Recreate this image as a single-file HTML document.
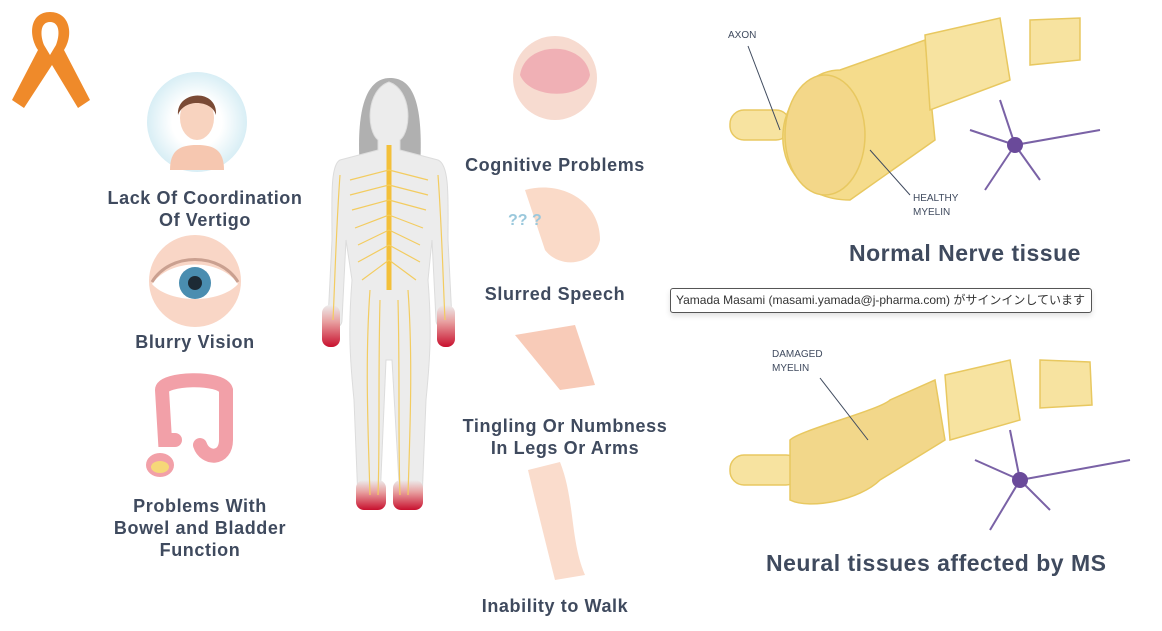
<!DOCTYPE html>
<html><head><meta charset="utf-8"><style>
body{margin:0;background:#fff;width:1162px;height:631px;overflow:hidden;position:relative;font-family:"Liberation Sans",sans-serif}
.t{position:absolute;font-weight:bold;color:#3f4a5e;font-size:18px;letter-spacing:0.6px;text-align:center;line-height:22px;white-space:nowrap}
.s{position:absolute;font-size:10px;color:#3f4a5e;line-height:14px}
.h{position:absolute;font-weight:bold;color:#3f4a5e;font-size:23px;letter-spacing:0.5px;white-space:nowrap}
</style></head><body>
<svg width="1162" height="631" style="position:absolute;left:0;top:0">
<defs>
<linearGradient id="rh" x1="0" y1="0" x2="0" y2="1"><stop offset="0" stop-color="#ececec"/><stop offset="0.4" stop-color="#e8a0a0"/><stop offset="1" stop-color="#c8102e"/></linearGradient>
<radialGradient id="halo"><stop offset="0.5" stop-color="#fff"/><stop offset="1" stop-color="#d8eef5"/></radialGradient>
</defs>
<path d="M50 12 C30 12 28 35 38 50 L12 100 L24 108 L52 65 L78 108 L90 100 L64 50 C74 35 70 12 50 12 Z M50 22 C60 22 60 35 56 45 L50 55 L44 45 C40 35 40 22 50 22Z" fill="#ef8a2a" fill-rule="evenodd"/>
<circle cx="197" cy="122" r="50" fill="url(#halo)"/>
<path d="M170 170 C170 150 180 145 197 145 C214 145 224 150 224 170 Z" fill="#f6c7b0"/>
<ellipse cx="197" cy="118" rx="17" ry="22" fill="#f8d3bf"/>
<path d="M178 115 C176 90 218 88 216 115 C212 100 184 98 178 115Z" fill="#7a4a35"/>
<circle cx="195" cy="281" r="46" fill="#f9d6c6"/>
<path d="M152 284 C170 258 220 258 238 284 C220 304 170 304 152 284Z" fill="#fff"/>
<circle cx="195" cy="283" r="16" fill="#4a8db0"/><circle cx="195" cy="283" r="7" fill="#1d2a35"/>
<path d="M152 282 C170 252 220 252 238 282" fill="none" stroke="#caa090" stroke-width="3"/>
<path d="M175 440 L165 440 L162 390 C162 378 222 376 226 390 L226 440 C226 460 205 460 200 445" fill="none" stroke="#f2a0a8" stroke-width="14" stroke-linecap="round"/>
<ellipse cx="160" cy="465" rx="14" ry="12" fill="#f2a0a8"/><ellipse cx="160" cy="467" rx="9" ry="6" fill="#f6d878"/>
<g>
<path d="M360 170 C355 100 370 78 390 78 C412 78 424 100 420 170 Z" fill="#b0b0b0"/>
<path d="M340 160 L378 150 L378 140 C366 130 366 90 389 82 C412 90 412 130 400 140 L400 150 L438 160 C450 165 448 200 448 240 L452 320 C450 330 436 330 436 320 L432 240 L428 280 C432 330 430 360 426 400 L422 500 L400 500 L392 360 L386 360 L380 500 L358 500 L354 400 C350 360 348 330 352 280 L346 240 L342 320 C342 330 328 330 328 320 L332 240 C332 200 330 165 340 160Z" fill="#ececec" stroke="#dcdcdc"/>
<rect x="322" y="305" width="18" height="42" rx="8" fill="url(#rh)"/>
<rect x="437" y="305" width="18" height="42" rx="8" fill="url(#rh)"/>
<rect x="356" y="480" width="30" height="30" rx="8" fill="url(#rh)"/>
<rect x="393" y="480" width="30" height="30" rx="8" fill="url(#rh)"/>
<path d="M389 145 L389 290" stroke="#f3c03a" stroke-width="5"/>
<g stroke="#f3cc60" stroke-width="1.2" fill="none">
<path d="M389 170 L350 180 M389 185 L350 195 M389 200 L352 210 M389 215 L355 228 M389 230 L358 245 M389 245 L358 262 M389 260 L362 280"/>
<path d="M389 170 L428 180 M389 185 L428 195 M389 200 L426 210 M389 215 L423 228 M389 230 L420 245 M389 245 L420 262 M389 260 L416 280"/>
<path d="M340 175 C336 230 335 280 333 320 M438 175 C442 230 443 280 445 320"/>
<path d="M370 290 C365 360 368 430 370 495 M408 290 C413 360 410 430 408 495 M380 300 C378 380 380 440 378 495 M398 300 C400 380 398 440 400 495"/>
</g></g>
<circle cx="555" cy="78" r="42" fill="#f7dbd0"/><path d="M520 75 C525 40 585 40 590 75 C585 100 530 100 520 75Z" fill="#f0b0b5"/>
<path d="M525 190 C560 180 600 200 600 240 C595 265 560 270 545 250 Z" fill="#fadac8"/>
<text x="508" y="225" fill="#9ac8dc" font-size="16" font-weight="bold">?? ?</text>
<path d="M515 335 L575 325 L595 385 L560 390 Z" fill="#f8cbb8"/>
<path d="M528 470 L560 462 C575 500 570 540 585 575 L555 580 C545 540 535 500 528 470Z" fill="#fadccc"/>
<g fill="#f7e3a0" stroke="#e8c860" stroke-width="1.5">
<rect x="730" y="110" width="60" height="30" rx="14"/>
<path d="M840 70 L925 40 L935 140 L850 200 C800 200 775 160 785 120 C795 85 820 70 840 70Z" fill="#f5dc8c"/>
<ellipse cx="825" cy="135" rx="40" ry="60" fill="#f3d789"/>
<path d="M925 35 L1000 18 L1010 80 L930 110Z"/>
<path d="M1030 20 L1080 18 L1080 60 L1030 65Z"/>
<rect x="730" y="455" width="70" height="30" rx="14"/>
<path d="M790 440 C800 430 880 410 890 400 L935 380 L945 440 L880 480 C860 500 810 510 790 500 Z" fill="#f2d78a"/>
<path d="M945 375 L1010 360 L1020 420 L950 440Z"/>
<path d="M1040 360 L1090 362 L1092 405 L1040 408Z"/>
</g>
<g stroke="#7a62a6" stroke-width="2" fill="none">
<path d="M1015 145 L970 130 M1015 145 L985 190 M1015 145 L1040 180 M1015 145 L1000 100 M1015 145 L1100 130"/>
<path d="M1020 480 L975 460 M1020 480 L990 530 M1020 480 L1050 510 M1020 480 L1010 430 M1020 480 L1130 460"/>
</g>
<circle cx="1015" cy="145" r="8" fill="#6a4a9a"/><circle cx="1020" cy="480" r="8" fill="#6a4a9a"/>
<g stroke="#3f4a5e" stroke-width="1"><line x1="748" y1="46" x2="780" y2="130"/><line x1="910" y1="195" x2="870" y2="150"/><line x1="820" y1="378" x2="868" y2="440"/></g>
</svg>
<div class="t" style="left:95px;top:187px;width:220px">Lack Of Coordination<br>Of Vertigo</div>
<div class="t" style="left:95px;top:331px;width:200px">Blurry Vision</div>
<div class="t" style="left:95px;top:495px;width:210px">Problems With<br>Bowel and Bladder<br>Function</div>
<div class="t" style="left:445px;top:154px;width:220px">Cognitive Problems</div>
<div class="t" style="left:445px;top:283px;width:220px">Slurred Speech</div>
<div class="t" style="left:445px;top:415px;width:240px">Tingling Or Numbness<br>In Legs Or Arms</div>
<div class="t" style="left:445px;top:595px;width:220px">Inability to Walk</div>
<div class="s" style="left:728px;top:29px">AXON</div>
<div class="s" style="left:913px;top:192px">HEALTHY<br>MYELIN</div>
<div class="s" style="left:772px;top:348px">DAMAGED<br>MYELIN</div>
<div class="h" style="left:849px;top:240px">Normal Nerve tissue</div>
<div class="h" style="left:766px;top:550px">Neural tissues affected by MS</div>
<div style="position:absolute;left:670px;top:288px;width:422px;height:25px;border:1px solid #555;border-radius:3px;background:#fff;font-size:12px;line-height:23px;padding-left:5px;box-sizing:border-box;box-shadow:0 3px 6px rgba(0,0,0,.12);font-family:'Liberation Sans','Noto Sans CJK JP',sans-serif;color:#333;white-space:nowrap">Yamada Masami (masami.yamada@j-pharma.com) がサインインしています</div>
</body></html>
